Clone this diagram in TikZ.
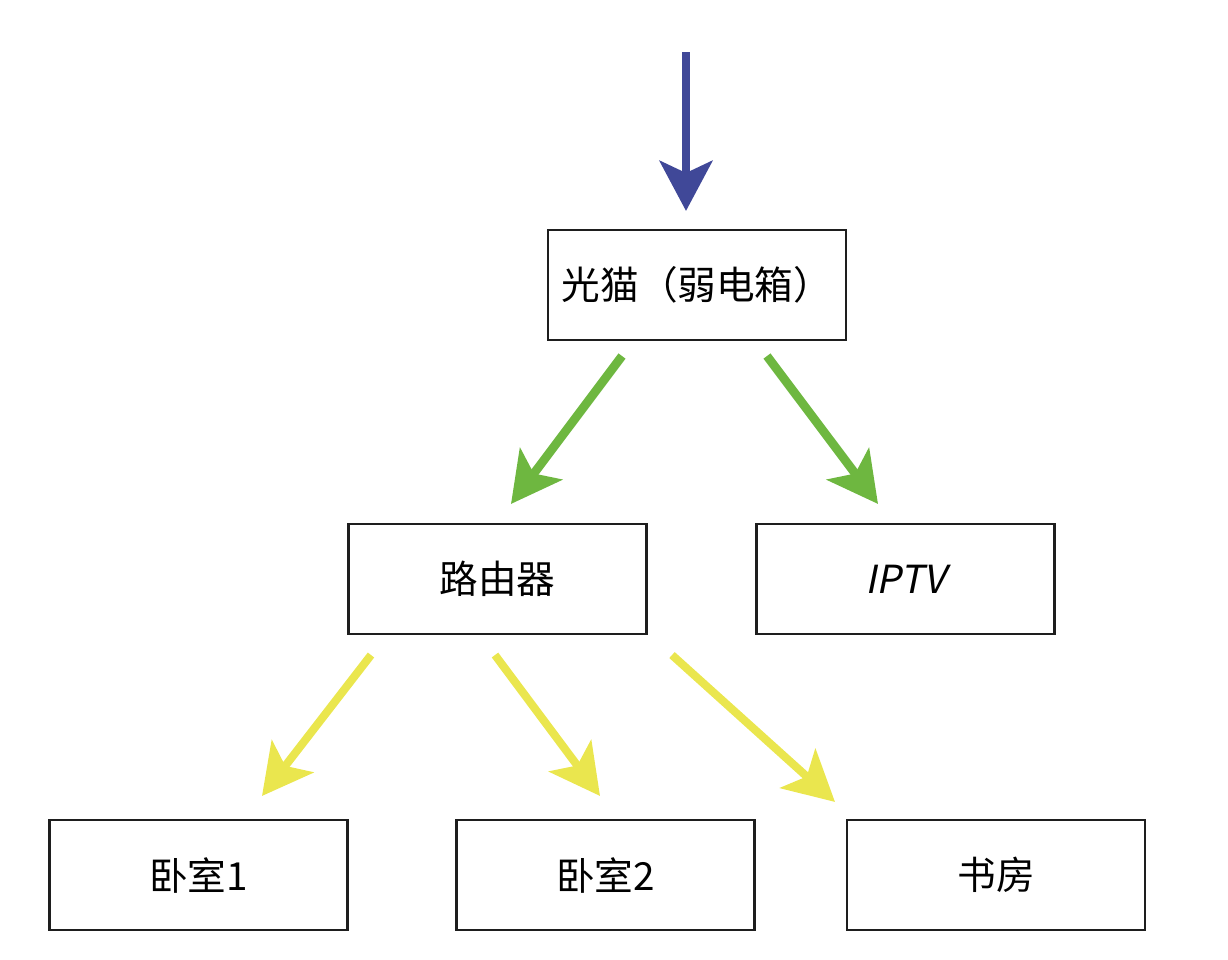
\documentclass[tikz,border=0pt]{standalone}
\usepackage{fontspec}
\newfontfamily\cjk{Noto Sans CJK SC}
\newfontfamily\cjkslant[FakeSlant=0.2]{Noto Sans CJK SC}
\definecolor{feedblue}{RGB}{64,72,152}
\definecolor{linkgreen}{RGB}{110,183,64}
\definecolor{wifiyellow}{RGB}{234,230,78}
\definecolor{boxline}{RGB}{30,30,30}
\usetikzlibrary{arrows.meta,positioning,calc}

\begin{document}
\begin{tikzpicture}[x=0.02cm, y=-0.02cm,
    roombox/.style={draw=boxline, line width=1.2pt, minimum width=5.96cm,
                    minimum height=2.2cm, inner sep=0pt, font=\cjk\fontsize{22}{26}\selectfont},
    flow/.style={line width=5pt, -{Stealth[length=1cm, width=1.05cm, inset=0.24cm]}},
    feedarrow/.style={flow, draw=feedblue, fill=feedblue},
    greenarrow/.style={flow, draw=linkgreen, fill=linkgreen},
    yellowarrow/.style={flow, line width=4.6pt, draw=wifiyellow, fill=wifiyellow}]
  \useasboundingbox (0,0) rectangle (1228,960);

  % boxes
  \node[roombox] (modem)  at (697,285)   {光猫（弱电箱）};
  \node[roombox] (router) at (497.5,579) {路由器};
  \node[roombox] (iptv)   at (905.5,579) {\cjkslant IPTV};
  \node[roombox] (bed1)   at (198.5,875) {卧室1};
  \node[roombox] (bed2)   at (605.5,875) {卧室2};
  \node[roombox] (study)  at (996,875)   {书房};

  % arrows
  \coordinate (feed) at (686,52);
  \draw[feedarrow] (feed) -- ($(modem.north)+(-11,-18)$);
  \draw[greenarrow] ($(modem.south)+(-75,15)$) -- ($(router.north)+(13.5,-19)$);
  \draw[greenarrow] ($(modem.south)+(70,15)$) -- ($(iptv.north)+(-27.5,-19)$);
  \draw[yellowarrow] ($(router.south)+(-126.5,20)$) -- ($(bed1.north)+(63.5,-23)$);
  \draw[yellowarrow] ($(router.south)+(-2.5,20)$) -- ($(bed2.north)+(-5.5,-23)$);
  \draw[yellowarrow] ($(router.south)+(174.5,20)$) -- ($(study.north)+(-161,-17)$);
\end{tikzpicture}
\end{document}
